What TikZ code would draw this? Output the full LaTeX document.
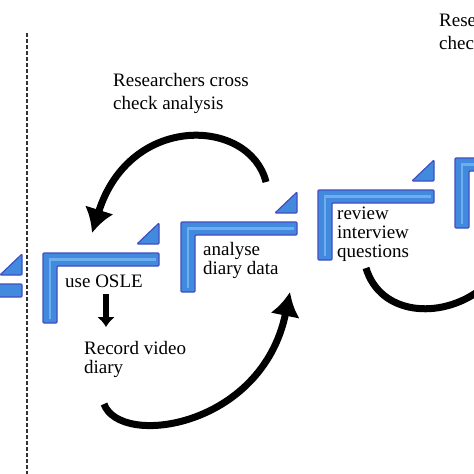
\documentclass[tikz,border=0pt]{standalone}
\usepackage{fontspec}
\setmainfont{Liberation Serif}
\usepackage{tikz}
\usetikzlibrary{arrows.meta,positioning,calc}
\usepackage{xcolor}
\definecolor{stepfill}{RGB}{66,138,222}
\definecolor{stepline}{RGB}{66,78,192}
\definecolor{steplite}{RGB}{110,174,238}

\begin{document}
\begin{tikzpicture}[x=1pt, y=-1pt, >={Latex[length=24pt,width=30pt]}]
\tikzstyle{stairs}=[fill=stepfill, draw=stepline, line width=1.2pt, rounded corners=1pt]
\tikzstyle{stripe}=[draw=steplite, line width=2.5pt]
\tikzstyle{words}=[anchor=base west, inner sep=0pt, align=left, font=\fontsize{19}{19}\selectfont]
\tikzstyle{loopy}=[line width=7pt, ->]
\clip (0,0) rectangle (474,474);
% divider
\draw[dashed, dash pattern=on 4pt off 2pt, line width=1.3pt, black!80] (27,33) -- (27,474);
% steps
\draw[stairs] (-94,284) -- ++(116,0) -- ++(0,13) -- ++(-102,0) -- ++(0,57) -- ++(-14,0) -- cycle;
\draw[stairs] (22,275) -- ++(-22,0) -- ++(22,-21) -- cycle;
\draw[stairs] (43,253) -- ++(116,0) -- ++(0,13) -- ++(-102,0) -- ++(0,57) -- ++(-14,0) -- cycle;
\draw[stripe] (50,319) -- (50,259.5) -- (156,259.5);
\draw[stairs] (159,244) -- ++(-22,0) -- ++(22,-21) -- cycle;
\draw[stairs] (181,222) -- ++(116,0) -- ++(0,13) -- ++(-102,0) -- ++(0,57) -- ++(-14,0) -- cycle;
\draw[stripe] (188,288) -- (188,228.5) -- (294,228.5);
\draw[stairs] (297,213) -- ++(-22,0) -- ++(22,-21) -- cycle;
\draw[stairs] (318,190) -- ++(116,0) -- ++(0,13) -- ++(-102,0) -- ++(0,57) -- ++(-14,0) -- cycle;
\draw[stripe] (325,256) -- (325,196.5) -- (431,196.5);
\draw[stairs] (434,181) -- ++(-22,0) -- ++(22,-21) -- cycle;
\draw[stairs] (455,158) -- ++(116,0) -- ++(0,13) -- ++(-102,0) -- ++(0,57) -- ++(-14,0) -- cycle;
\draw[stripe] (462,224) -- (462,164.5) -- (568,164.5);
% texts (base = last line)
\node[words] (osle) at (65,287) {use OSLE};
\node[words] (analyse) at (203,274) {analyse\\diary data};
\node[words] (review) at (337,257) {review\\interview\\questions};
\node[words] (record) at (84,373) {Record video\\diary};
\node[words, font=\fontsize{19}{23}\selectfont] (cross) at (113,109) {Researchers cross\\check analysis};
\node[words, font=\fontsize{19}{23}\selectfont] (crossnext) at (439,49) {Researchers cross\\check analysis};
% loops
\coordinate (crossfrom) at (266,182);
\coordinate (crossto) at (92,233);
\coordinate (dropfrom) at (106,294);
\coordinate (dropto) at (106,327);
\coordinate (upfrom) at (104,404);
\coordinate (upto) at (290,292);
\coordinate (nextfrom) at (366,268);
\coordinate (nextto) at (480,290);
\draw[loopy] (crossfrom) .. controls (250,118) and (130,112) .. (crossto);
\draw[line width=6pt, -{Latex[length=10pt,width=18pt]}] (dropfrom) -- (dropto);
\draw[loopy] (upfrom) .. controls (120,448) and (262,428) .. (upto);
\draw[line width=7pt] (nextfrom) .. controls (380,315) and (440,320) .. (nextto);
\end{tikzpicture}
\end{document}
